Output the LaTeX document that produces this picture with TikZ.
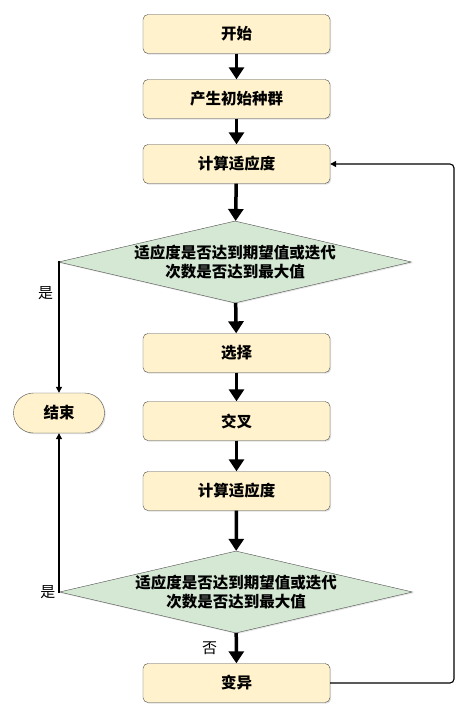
\documentclass[tikz,border=0pt]{standalone}
\usepackage{fontspec}
\setmainfont{Noto Sans CJK SC}
\usepackage{tikz}
\usetikzlibrary{arrows.meta}
\usetikzlibrary{shapes.geometric}
\usetikzlibrary{shadows}
\definecolor{boxfill}{HTML}{FFF2CC}
\definecolor{decfill}{HTML}{D5E8D4}
\definecolor{edge}{HTML}{4D4D4D}
\tikzstyle{step box}=[draw=edge,fill=boxfill,rounded corners=5pt,minimum width=187pt,minimum height=39pt,font=\fontsize{15.5}{19}\selectfont\bfseries,drop shadow={shadow xshift=1.2pt,shadow yshift=-1.2pt,opacity=0.25}]
\tikzstyle{test}=[draw=edge,fill=decfill,diamond,aspect=4.3,inner sep=0pt,minimum width=353pt,minimum height=82pt,align=center,font=\fontsize{15.5}{19}\selectfont\bfseries,drop shadow={shadow xshift=1.2pt,shadow yshift=-1.2pt,opacity=0.2}]
\tikzstyle{main}=[line width=3.5pt,-{Triangle[width=15pt,length=12pt]}]
\tikzstyle{side}=[line width=1.1pt,-{Triangle[width=6pt,length=6pt]}]

\begin{document}
\begin{tikzpicture}[x=1pt,y=-1pt]
\useasboundingbox (0,0) rectangle (474,719);
\node [step box] (start) at (236.5,34) {开始};
\node [step box] (init) at (236.5,99) {产生初始种群};
\node [step box] (fitA) at (236.5,164) {计算适应度};
\node [test] (testA) at (235,262) {适应度是否达到期望值或迭代\\次数是否达到最大值};
\node [step box] (select) at (236.5,353) {选择};
\node [step box] (cross) at (236.5,421) {交叉};
\node [step box] (fitB) at (236.5,491) {计算适应度};
\node [test] (testB) at (236,592) {适应度是否达到期望值或迭代\\次数是否达到最大值};
\node [step box] (mutate) at (236.5,683) {变异};
\node [step box,minimum width=91pt,minimum height=40pt,rounded corners=20pt] (stop) at (59,413) {结束};
\coordinate (loop) at (454,683);

\draw [main] (start) -- (init);
\draw [main] (init) -- (fitA);
\draw [main] (fitA) -- (testA);
\draw [main] (testA) -- (select);
\draw [main] (select) -- (cross);
\draw [main] (cross) -- (fitB);
\draw [main] (fitB) -- (testB);
\draw [main] (testB) -- node [left=14pt,font=\fontsize{15}{18}\selectfont] {否} (mutate);

\draw [side] (testA.west) -| node [pos=0.62,left=2pt,font=\fontsize{15}{18}\selectfont] {是} (stop.north);
\draw [side] (testB.west) -| node [pos=0,left=0pt,font=\fontsize{15}{18}\selectfont] {是} (stop.south);
\draw [side,rounded corners=4pt] (mutate.east) -- (loop) |- (fitA.east);
\end{tikzpicture}
\end{document}
